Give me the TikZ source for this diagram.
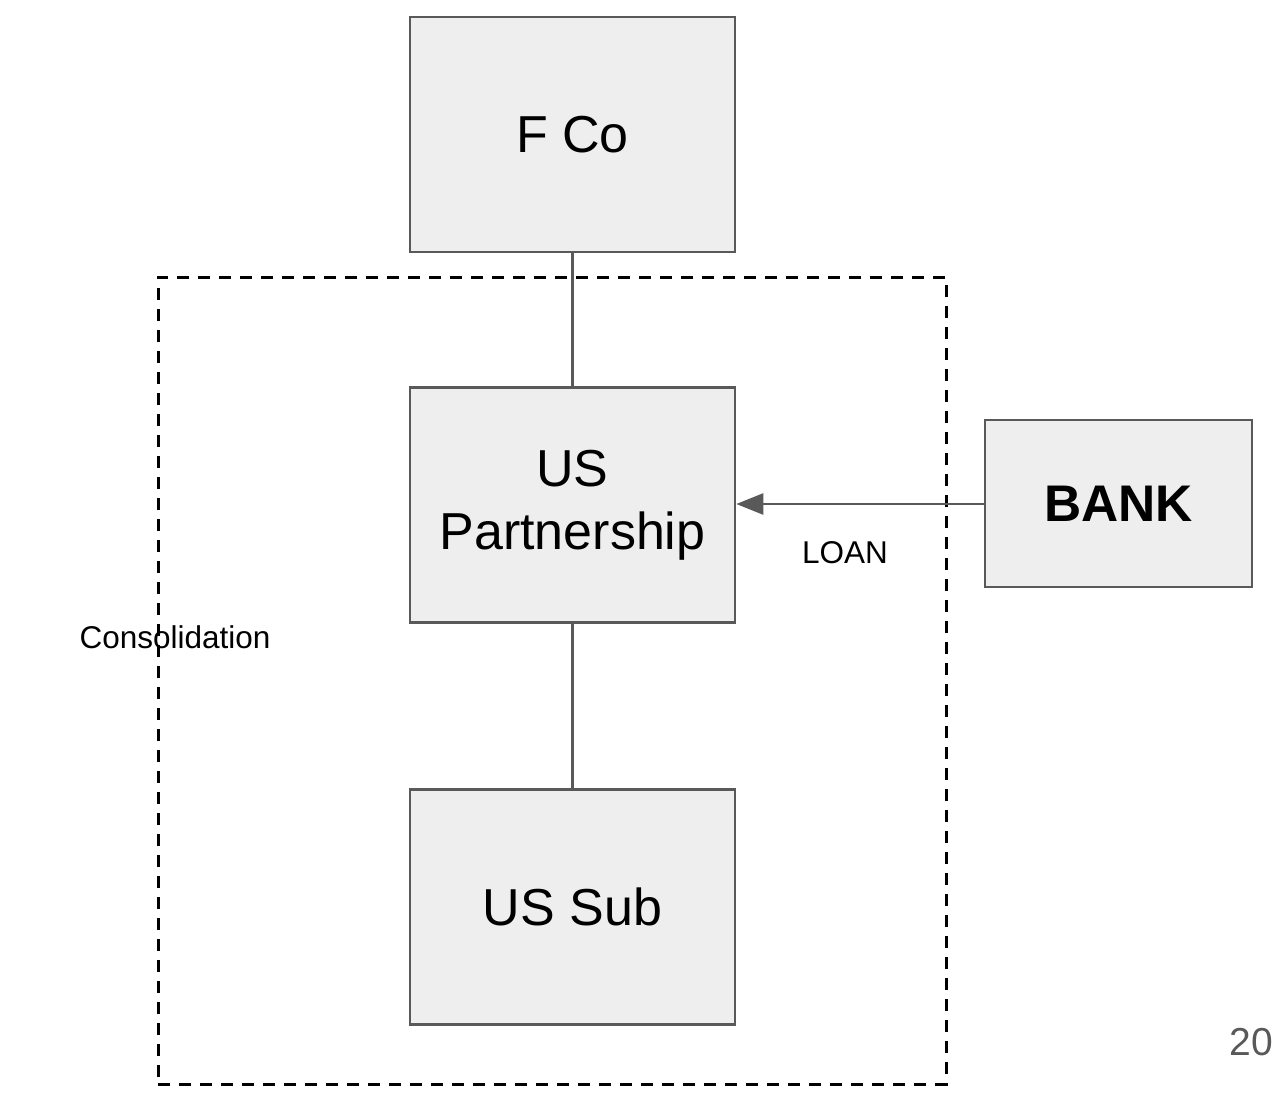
\documentclass[tikz,border=0pt]{standalone}
\usepackage{fontspec}
\setmainfont{Liberation Sans}
\usetikzlibrary{arrows.meta}
\definecolor{boxfill}{HTML}{EEEEEE}
\definecolor{boxline}{HTML}{595959}
\definecolor{pagenum}{HTML}{595959}
\begin{document}
\begin{tikzpicture}[x=1pt,y=-1pt,
  entity/.style={draw=boxline,line width=2.6pt,fill=boxfill,minimum width=325pt,minimum height=235pt,inner sep=0pt,font=\fontsize{52}{63}\selectfont,align=center},
  conn/.style={draw=boxline,line width=2.6pt},
  lbl/.style={font=\fontsize{31.5}{36}\selectfont,inner sep=0pt}]
\useasboundingbox (0,0) rectangle (1280,1098);
\node[draw,dashed,line width=3pt,dash pattern=on 12pt off 9pt,minimum width=788pt,minimum height=807pt,inner sep=0pt] (cons) at (552,680.5) {};
\node[entity] (fco) at (572.5,134.5) {F Co};
\node[entity] (usp) at (572.5,505) {US\\Partnership};
\node[entity] (ussub) at (572.5,907) {US Sub};
\node[entity,minimum width=267pt,minimum height=167pt,font=\fontsize{51.5}{62}\selectfont\bfseries] (bank) at (1118.5,503.5) {BANK};
\draw[conn] (fco.south) -- (usp.north);
\draw[conn] (usp.south) -- (ussub.north);
\draw[conn,-{Triangle[length=27pt,width=21pt]}] (bank.west |- 0,504) -- (usp.east |- 0,504);
\node[lbl] (loan) at (845,553) {LOAN};
\node[lbl] (clabel) at (175,637) {Consolidation};
\node[font=\fontsize{39}{46}\selectfont,text=pagenum,inner sep=0pt] (pg) at (1251,1042) {20};
\end{tikzpicture}
\end{document}
